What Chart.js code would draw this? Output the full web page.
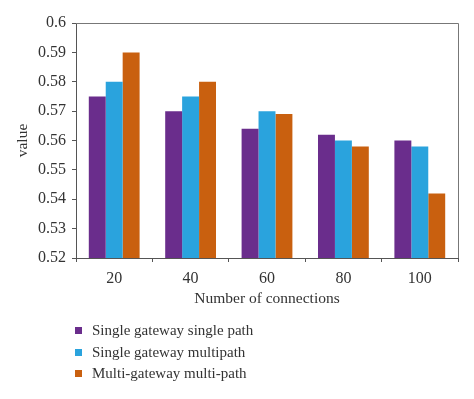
<!DOCTYPE html>
<html>
<head>
<meta charset="utf-8">
<script src="https://cdn.jsdelivr.net/npm/chart.js@4/dist/chart.umd.min.js"></script>
<style>
  html, body { margin:0; padding:0; background:#fff; }
  #wrap { position:relative; width:474px; height:399px; }
  canvas { position:absolute; left:0; top:0; }
  #legend { position:absolute; left:75px; top:320px; font-family:"Liberation Serif","Times New Roman",serif; font-size:15px; color:#333; }
  #legend div { height:21.5px; line-height:21.5px; white-space:nowrap; }
  #legend span.box { display:inline-block; width:7px; height:7px; margin-right:10px; vertical-align:middle; position:relative; top:-1px; }
</style>
</head>
<body>
<div id="wrap">
  <canvas id="c" width="474" height="399"></canvas>
  <div id="legend"></div>
</div>
<script>
const categories = ["20", "40", "60", "80", "100"];
const singleGatewaySinglePath = [0.575, 0.570, 0.564, 0.562, 0.560];
const singleGatewayMultipath = [0.580, 0.575, 0.570, 0.560, 0.558];
const multiGatewayMultiPath = [0.590, 0.580, 0.569, 0.558, 0.542];
const seriesLabels = ["Single gateway single path", "Single gateway multipath", "Multi-gateway multi-path"];
const seriesColors = ["#6a2d8c", "#2aa3dd", "#c9600f"];
const yTicks = [0.52, 0.53, 0.54, 0.55, 0.56, 0.57, 0.58, 0.59, 0.6];

const FONT = "'Liberation Serif','Times New Roman',serif";

const framePlugin = {
  id: 'frame',
  afterDraw(chart) {
    const {ctx, chartArea: a} = chart;
    ctx.save();
    ctx.strokeStyle = '#777';
    ctx.lineWidth = 1;
    ctx.beginPath();
    ctx.moveTo(a.left, a.top + 0.5);
    ctx.lineTo(a.right + 0.5, a.top + 0.5);
    ctx.lineTo(a.right + 0.5, a.bottom);
    ctx.stroke();
    ctx.restore();
  }
};

const datasets = [singleGatewaySinglePath, singleGatewayMultipath, multiGatewayMultiPath].map((d, i) => ({
  label: seriesLabels[i],
  data: d,
  backgroundColor: seriesColors[i],
  borderWidth: 0,
  categoryPercentage: 0.665,
  barPercentage: 1.0
}));

new Chart(document.getElementById('c'), {
  type: 'bar',
  data: { labels: categories, datasets },
  options: {
    responsive: false,
    animation: false,
    layout: { padding: { top: 23, right: 16, left: 0, bottom: 0 } },
    plugins: { legend: { display: false }, tooltip: { enabled: false } },
    scales: {
      x: {
        grid: { drawOnChartArea: false, drawTicks: true, tickLength: 4, color: '#555', offset: true },
        border: { display: true, color: '#555', width: 1 },
        ticks: { color: '#333', font: { family: FONT, size: 16 }, padding: 7 },
        title: { display: true, text: 'Number of connections', color: '#333', font: { family: FONT, size: 15.5 }, padding: { top: 0, bottom: 91 } },
        afterFit(s) { s.height = 141; }
      },
      y: {
        min: 0.52, max: 0.6,
        afterBuildTicks(s) { s.ticks = yTicks.map(v => ({ value: v })); },
        grid: { drawOnChartArea: false, drawTicks: true, tickLength: 4, color: '#555' },
        border: { display: true, color: '#555', width: 1 },
        ticks: { color: '#333', font: { family: FONT, size: 16 }, padding: 6,
          callback: v => String(Math.round(v * 100) / 100) },
        title: { display: true, text: 'value', color: '#333', font: { family: FONT, size: 15.5 }, padding: { top: 14, bottom: 0 } },
        afterFit(s) { s.width = 76; }
      }
    }
  },
  plugins: [framePlugin]
});

const leg = document.getElementById('legend');
seriesLabels.forEach((l, i) => {
  const row = document.createElement('div');
  const box = document.createElement('span');
  box.className = 'box';
  box.style.background = seriesColors[i];
  row.appendChild(box);
  row.appendChild(document.createTextNode(l));
  leg.appendChild(row);
});
</script>
</body>
</html>
